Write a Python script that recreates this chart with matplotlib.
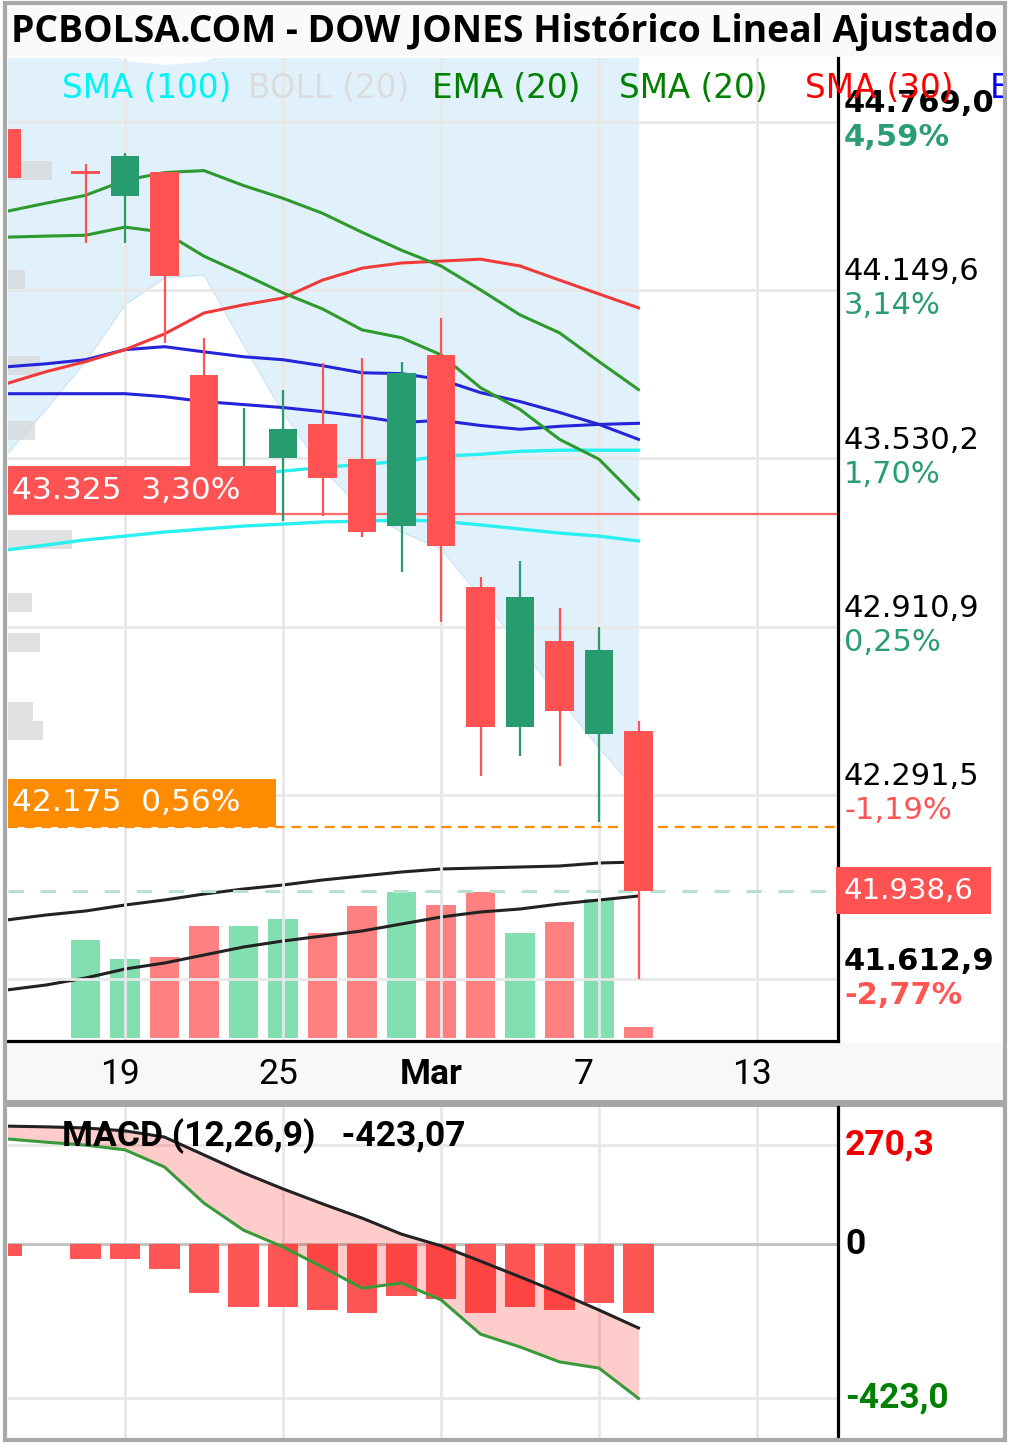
import numpy as np
import matplotlib
matplotlib.use('Agg')
import matplotlib.pyplot as plt
import matplotlib.transforms as mtransforms
from matplotlib.patches import Rectangle

W, H = 1010, 1445
plt.rcParams['font.family'] = ['Roboto', 'DejaVu Sans']

# sesiones (posición 0 = 19 feb, el 17 feb festivo queda vacío)
slots = [-3, -1, 0, 1, 2, 3, 4, 5, 6, 7, 8, 9, 10, 11, 12, 13]
opens = [44743, 44589, 44494, 44582, 43838, 43380, 43530, 43655, 43527, 43281,
         43911, 43057, 42541, 42859, 42515, 42526]
highs = [44769, 44615, 44655, 44589, 43974, 43717, 43783, 43882, 43900, 43886,
         44047, 43094, 43153, 42980, 42911, 42563]
lows = [44545, 44322, 44322, 43955, 43380, 43325, 43299, 43318, 43241, 43112,
        42929, 42361, 42434, 42398, 42192, 41612.9]
closes = [44560, 44575, 44644, 44201, 43417, 43435, 43637, 43457, 43259, 43845,
          43208, 42541, 43021, 42599, 42823, 41938.6]

ma_slots = list(range(-3, 14))
ema20 = [44439, 44469, 44498, 44553, 44582, 44589, 44534, 44487, 44432, 44362,
         44296, 44238, 44150, 44058, 43992, 43886, 43783]
sma20 = [44344, 44348, 44351, 44381, 44362, 44274, 44208, 44139, 44080, 44003,
         43974, 43911, 43790, 43710, 43600, 43527, 43380]
sma30 = [43805, 43849, 43886, 43930, 43988, 44065, 44095, 44120, 44186, 44230,
         44249, 44256, 44263, 44238, 44186, 44135, 44084]
ema30 = [43867, 43878, 43893, 43930, 43941, 43922, 43904, 43893, 43871, 43845,
         43842, 43820, 43772, 43739, 43699, 43655, 43600]
ema50 = [43768, 43768, 43768, 43768, 43757, 43739, 43728, 43717, 43702, 43684,
         43662, 43670, 43651, 43637, 43648, 43655, 43659]
sma100 = [43193, 43211, 43230, 43244, 43259, 43270, 43281, 43288, 43296, 43299,
          43303, 43299, 43285, 43270, 43255, 43244, 43226]
sma50 = [43387, 43402, 43417, 43431, 43446, 43461, 43472, 43483, 43497, 43508,
         43519, 43538, 43545, 43556, 43560, 43560, 43560]
boll_up = [45150, 45100, 45050, 44995, 44980, 44990, 45060, 45150, 45250, 45300,
           45320, 45330, 45330, 45330, 45330, 45320, 45300]
boll_low = [43545, 43710, 43886, 44095, 44194, 44205, 43948, 43699, 43490, 43343,
            43259, 43197, 43021, 42838, 42647, 42464, 42299]

vol_slots = [-1, 0, 1, 2, 3, 4, 5, 6, 7, 8, 9, 10, 11, 12, 13]
volume = [490, 395, 405, 560, 560, 595, 525, 660, 730, 665, 730, 525, 580, 695, 55]
vol_ma_a = [590, 615, 635, 665, 690, 720, 745, 765, 790, 810, 830, 845, 850, 855,
            860, 875, 880]
vol_ma_b = [240, 265, 300, 345, 375, 415, 455, 485, 510, 535, 570, 605, 630, 645,
            670, 690, 710]

# volumen por precio (barras grises de la izquierda)
vp_price = [44589, 44188, 43870, 43633, 43230, 43000, 42852, 42599, 42530]
vp_len = [1.11, 0.43, 0.81, 0.68, 1.62, 0.61, 0.81, 0.63, 0.89]

macd = [288, 279, 271, 258, 211, 112, 38, -8, -63, -121, -107, -153, -247, -282,
        -323, -340, -423.07]
signal = [323, 321, 318, 310, 293, 244, 195, 151, 110, 71, 27, -5, -47, -90,
          -134, -181, -230]
hist = [-33, -41, -41, -69, -134, -172, -172, -181, -189, -142, -151, -189, -172,
        -181, -161, -189]

tick_slots = [0, 4, 8, 12, 16]
tick_labels = ['19', '25', 'Mar', '7', '13']

axis_levels = [44769.0, 44149.6, 43530.2, 42910.9, 42291.5, 41612.9]
axis_texts = ['44.769,0', '44.149,6', '43.530,2', '42.910,9', '42.291,5', '41.612,9']
axis_pcts = ['4,59%', '3,14%', '1,70%', '0,25%', '-1,19%', '-2,77%']

last_price = 41938.6
last_text = '41.938,6'
mark_levels = [43325, 42175]
mark_texts = ['43.325  3,30%', '42.175  0,56%']

macd_levels = [270.3, 0, -423.0]
macd_texts = ['270,3', '0', '-423,0']

legend_names = ['SMA (100)', 'BOLL (20)', 'EMA (20)', 'SMA (20)', 'SMA (30)', 'EMA (30)']
legend_cols = ['#00f4f4', '#dcdcdc', '#008000', '#008000', '#ff0000', '#0000ff']
legend_x = [62, 248, 432, 619, 805, 990]

GREEN = '#279d6f'
RED = '#ff5252'
WIDE = ['DejaVu Sans']


def rect(x0, y0, x1, y1):
    return [x0 / W, 1 - y1 / H, (x1 - x0) / W, (y1 - y0) / H]


fig = plt.figure(figsize=(W / 100, H / 100), dpi=100)

# fondos
fig.patches.append(Rectangle((5 / W, 1 - 57 / H), 998 / W, 52 / H,
                             transform=fig.transFigure, fc='#fafafa', ec='none', zorder=-5))
fig.patches.append(Rectangle((5 / W, 1 - 1100 / H), 998 / W, 57 / H,
                             transform=fig.transFigure, fc='#f8f8f8', ec='none', zorder=-5))
fig.patches.append(Rectangle((5 / W, 1 - 1107 / H), 998 / W, 7 / H,
                             transform=fig.transFigure, fc='#a6a6a6', ec='none', zorder=-5))

fig.text(11 / W, 1 - 32 / H, 'PCBOLSA.COM - DOW JONES Histórico Lineal Ajustado',
         fontsize=26.8, fontweight='bold', family='Open Sans', va='center', ha='left')

xmin = (8 - 125) / 39.5
xmax = (838 - 125) / 39.5
ymin = 44149.6 - (1041 - 290) * 3.68
ymax = 44149.6 + (290 - 58) * 3.68
ppx = (ymax - ymin) / 983.0

# volumen, por debajo del panel de precios
axv = fig.add_axes(rect(8, 58, 838, 1041))
axv.set_xlim(xmin, xmax)
axv.set_ylim(-15, 4900)
vcols = ['#82e0b0' if c >= p else '#ff8080' for p, c in zip(closes[:-1], closes[1:])]
axv.bar(vol_slots, volume, width=0.74, color=vcols, zorder=2)
axv.plot(ma_slots, vol_ma_a, color='#222222', lw=2.2, zorder=3)
axv.plot(ma_slots, vol_ma_b, color='#222222', lw=2.2, zorder=3)
axv.axis('off')

ax = fig.add_axes(rect(8, 58, 838, 1041), sharex=axv)
ax.patch.set_alpha(0)
ax.set_xlim(xmin, xmax)
ax.set_ylim(ymin, ymax)
ax.set_xticks(tick_slots)
ax.set_yticks(axis_levels)
ax.tick_params(length=0, labelbottom=False, labelleft=False)
ax.set_axisbelow(True)
ax.grid(color='#e8e8e8', lw=2)
for sp in ['left', 'top']:
    ax.spines[sp].set_visible(False)
for sp in ['right', 'bottom']:
    ax.spines[sp].set_color('black')
    ax.spines[sp].set_linewidth(2.3)

ax.fill_between(ma_slots, boll_low, boll_up, color='#e1f1fc', lw=0, zorder=0.3)
ax.plot(ma_slots, boll_low, color='#cde6f7', lw=1, zorder=0.35)
ax.barh(vp_price, vp_len, left=xmin, height=70, color='#d5d8da', alpha=0.75, zorder=0.8)

ax.plot(ma_slots, sma100, color='#2af0f0', lw=2.4, zorder=2)
ax.plot(ma_slots, sma50, color='#2af0f0', lw=2.4, zorder=2)
ax.plot(ma_slots, ema50, color='#2424d8', lw=2.2, zorder=2)
ax.plot(ma_slots, ema30, color='#2424d8', lw=2.2, zorder=2)
ax.plot(ma_slots, sma30, color='#f03a3a', lw=2.2, zorder=2)
ax.plot(ma_slots, sma20, color='#2e9a2e', lw=2.2, zorder=2)
ax.plot(ma_slots, ema20, color='#2e9a2e', lw=2.2, zorder=2)

for s, o, h, l, c in zip(slots, opens, highs, lows, closes):
    col = GREEN if c >= o else RED
    ax.vlines(s, l, h, color=col, lw=1.6, zorder=3)
    ax.bar(s, max(abs(c - o), 2 * ppx), bottom=min(o, c), width=0.72, color=col, zorder=3)

# marcas horizontales con su etiqueta
ax.axhline(mark_levels[0], color='#ff6b6b', lw=1.6, zorder=2.5)
ax.axhline(mark_levels[1], color='#ff8c00', lw=1.6, ls=(0, (4.5, 3)), zorder=2.5)
ax.axhline(last_price, color='#b9dfcf', lw=2.2, ls=(0, (5, 5.5)), zorder=2.5)
bt = mtransforms.blended_transform_factory(ax.transAxes, ax.transData)
for lev, txt, col in zip(mark_levels, mark_texts, [RED, '#ff8c00']):
    ax.add_patch(Rectangle((0, lev), (276 - 8) / 830, 48 * ppx, transform=bt,
                           fc=col, ec='none', zorder=4))
    ax.text(4 / 830, lev + 24 * ppx, txt, transform=bt, color='white', fontsize=22.5,
            family=WIDE, va='center', ha='left', zorder=5)

# escala de precios a la derecha
for lev, txt, pct in zip(axis_levels, axis_texts, axis_pcts):
    bold = lev in (axis_levels[0], axis_levels[-1])
    pcol = '#ff5555' if pct.startswith('-') else '#2a9d74'
    ax.text(1, lev, txt, transform=mtransforms.offset_copy(bt, fig, x=6, y=18, units='dots'),
            fontsize=22, family=WIDE, fontweight='bold' if bold else 'normal',
            va='center', ha='left', clip_on=False, zorder=6)
    ax.text(1, lev, pct, transform=mtransforms.offset_copy(bt, fig, x=6, y=-16, units='dots'),
            fontsize=22, family=WIDE, fontweight='bold' if bold else 'normal', color=pcol,
            va='center', ha='left', clip_on=False, zorder=6)

ax.add_patch(Rectangle(((836 - 8) / 830, last_price - 23.5 * ppx), (991 - 836) / 830, 47 * ppx,
                       transform=bt, fc=RED, ec='none', clip_on=False, zorder=5))
ax.text(1, last_price, last_text, transform=mtransforms.offset_copy(bt, fig, x=6, y=0, units='dots'),
        fontsize=21, family=WIDE, color='white', va='center', ha='left', clip_on=False, zorder=6)

# fechas
xt = mtransforms.blended_transform_factory(ax.transData, ax.transAxes)
for s, lab in zip(tick_slots, tick_labels):
    dx = -41 if lab == 'Mar' else -25
    ax.text(s, 0, lab, transform=mtransforms.offset_copy(xt, fig, x=dx, y=-34, units='dots'),
            fontsize=25.5, fontweight='bold' if lab == 'Mar' else 'normal',
            va='center', ha='left', clip_on=False)

# leyenda
axl = fig.add_axes(rect(8, 60, 1003, 118))
axl.set_xlim(8, 1003)
axl.set_ylim(118, 60)
axl.axis('off')
for name, col, x in zip(legend_names, legend_cols, legend_x):
    axl.text(x, 88, name, color=col, fontsize=23.5, family=WIDE,
             va='center', ha='left', clip_on=True)

# MACD
axm = fig.add_axes(rect(8, 1107, 838, 1438), sharex=axv)
axm.set_xlim(xmin, xmax)
axm.set_ylim((1244 - 1438) * 2.74, (1244 - 1107) * 2.74)
axm.set_xticks(tick_slots)
axm.set_yticks(macd_levels)
axm.tick_params(length=0, labelbottom=False, labelleft=False)
axm.set_axisbelow(True)
axm.grid(color='#e8e8e8', lw=2)
axm.axhline(0, color='#c4c4c4', lw=2.2, zorder=1)
for sp in ['left', 'top', 'bottom']:
    axm.spines[sp].set_visible(False)
axm.spines['right'].set_color('black')
axm.spines['right'].set_linewidth(2.3)
axm.bar(slots, hist, width=0.76, color='#ff5555', zorder=2)
axm.fill_between(ma_slots, macd, signal, color='red', alpha=0.2, lw=0, zorder=3)
axm.plot(ma_slots, signal, color='#222222', lw=2.2, zorder=4)
axm.plot(ma_slots, macd, color='#3a9a3a', lw=2.2, zorder=4)
axm.text((62 - 8) / 830, 1 - (1136 - 1107) / 331, 'MACD (12,26,9)   -423,07',
         transform=axm.transAxes, fontsize=25.5, fontweight='bold', va='center', ha='left', zorder=6)
bm = mtransforms.blended_transform_factory(axm.transAxes, axm.transData)
for lev, txt, col in zip(macd_levels, macd_texts, ['#ee0000', 'black', '#008000']):
    axm.text(1, lev, txt, transform=mtransforms.offset_copy(bm, fig, x=7, y=0, units='dots'),
             fontsize=25.5, fontweight='bold', color=col, va='center', ha='left', clip_on=False)

# marco exterior
fig.patches.append(Rectangle((4.5 / W, 1 - 1440 / H), 1000 / W, 1437 / H,
                             transform=fig.transFigure, fill=False, ec='#a8a8a8', lw=3, zorder=10))

fig.savefig('out.png', dpi=100, facecolor='white')
